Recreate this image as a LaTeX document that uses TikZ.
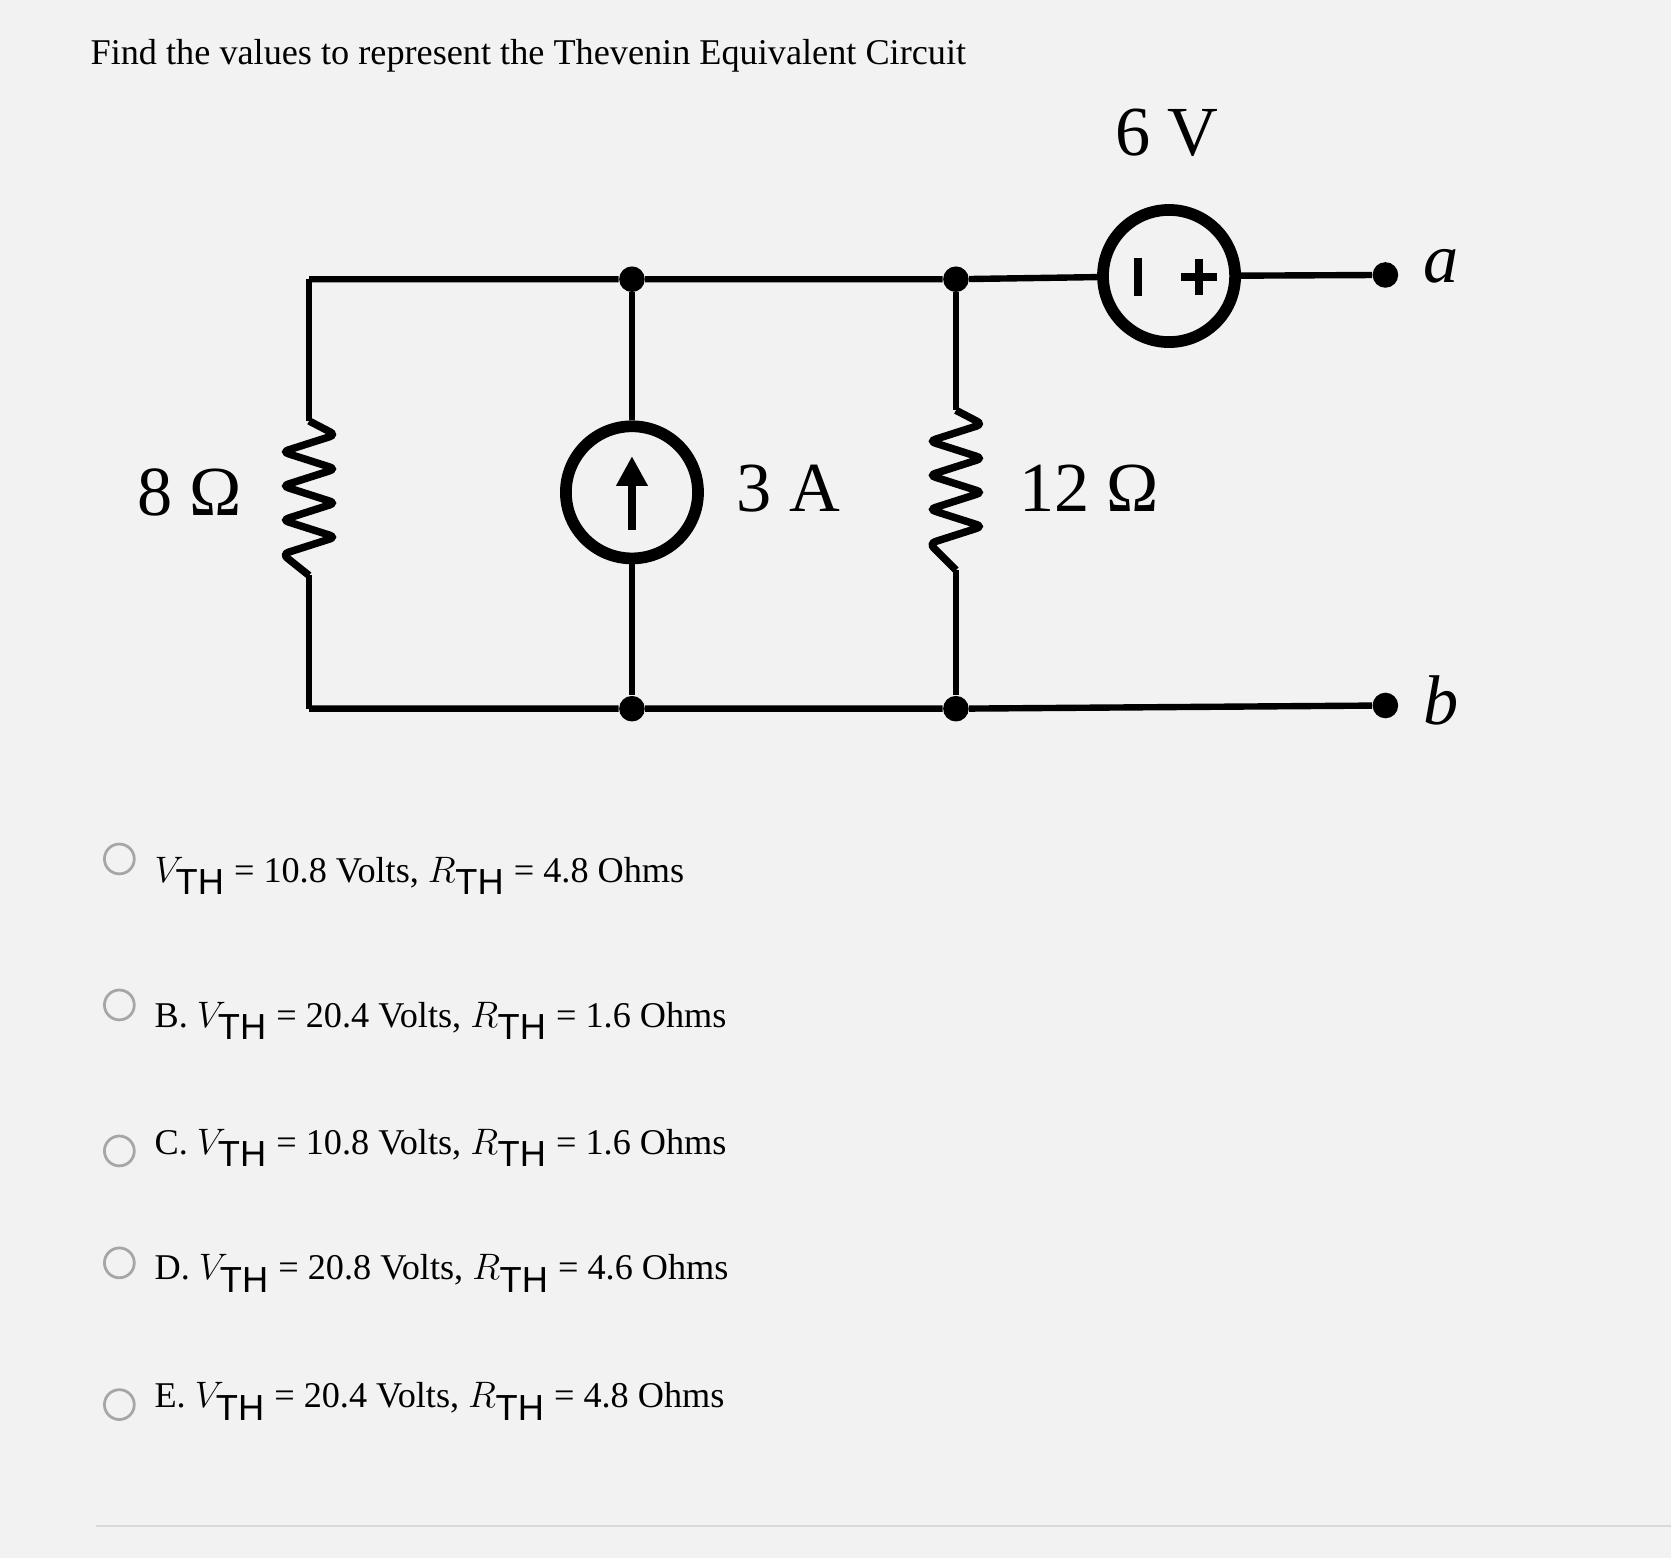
\documentclass[tikz,border=0pt]{standalone}
\usepackage{fontspec}
\setmainfont{Liberation Serif}
\setsansfont{Liberation Sans}
\usetikzlibrary{arrows.meta}
\tikzset{wire/.style={line width=3pt},
 res/.style={line width=3.5pt,rounded corners=3pt},
 src/.style={circle,draw,line width=5.5pt,minimum size=62pt,inner sep=0pt,fill=white!90!gray},
 dot/.style={circle,fill=black,inner sep=0pt,minimum size=12pt},
 lbl/.style={font=\fontsize{33}{36}\selectfont},
 opt/.style={font=\fontsize{17}{20}\selectfont,anchor=west},
 radio/.style={circle,draw=gray!70,line width=1.3pt,minimum size=14pt,inner sep=0pt}}
\newcommand{\VT}{$V_{\textsf{TH}}$}
\newcommand{\RT}{$R_{\textsf{TH}}$}
\begin{document}
\begin{tikzpicture}[x=0.5pt,y=-0.5pt]
\fill[gray!10] (0,0) rectangle (1568,1462);
\useasboundingbox (0,0) rectangle (1568,1462);
\draw[gray!30,line width=0.6pt] (90,1432) -- (1568,1432);
\node[anchor=west,font=\fontsize{17}{20}\selectfont] (title) at (78,52) {Find the values to represent the Thevenin Equivalent Circuit};
% nodes
\coordinate (tl) at (290,262); \coordinate (bl) at (290,665);
\node[dot] (t1) at (593,262) {}; \node[dot] (b1) at (593,665) {};
\node[dot] (t2) at (897,262) {}; \node[dot] (b2) at (897,665) {};
\node[dot] (a) at (1300,258) {}; \node[dot] (b) at (1300,662) {};
\node[src] (vs) at (1097,259) {};
\node[src] (cs) at (593,462) {};
% wires
\draw[wire] (tl) -- (t1) -- (t2) -- (vs);
\draw[wire] (bl) -- (290,540);
\draw[wire] (tl) -- (290,395);
\draw[res] (290,395) -- (315,408) -- (265,424) -- (315,440) -- (265,456) -- (315,472) -- (265,488) -- (315,504) -- (265,520) -- (290,540);
\draw[wire] (vs) -- (a);
\draw[wire] (bl) -- (b1) -- (b2) -- (b);
\draw[wire] (t1) -- (cs) -- (b1);
\draw[wire] (t2) -- (897,385);
\draw[res] (897,385) -- (922,398) -- (872,414) -- (922,430) -- (872,446) -- (922,462) -- (872,478) -- (922,494) -- (872,510) -- (897,535);
\draw[wire] (897,535) -- (b2);
% source symbols
\draw[line width=3.5pt,-{Triangle[length=14pt,width=14pt]}] (593,497) -- (593,428);
\draw[line width=3.5pt] (1068,242) -- (1068,278);
\draw[line width=3.5pt] (1108,260) -- (1142,260) (1125,243) -- (1125,277);
% labels
\node[lbl] (l6) at (1095,125) {6 V};
\node[lbl] (l8) at (178,462) {8 Ω};
\node[lbl] (l3) at (740,458) {3 A};
\node[lbl] (l12) at (1022,458) {12 Ω};
\node[lbl] (la) at (1352,250) {\textit{a}};
\node[lbl] (lb) at (1352,657) {\textit{b}};
% options
\node[radio] (r0) at (112,806) {}; \node[opt] (o0) at (138,822) {\VT\ = 10.8 Volts, \RT\ = 4.8 Ohms};
\node[radio] (r1) at (112,943) {}; \node[opt] (o1) at (138,958) {B.\ \VT\ = 20.4 Volts, \RT\ = 1.6 Ohms};
\node[radio] (r2) at (112,1080) {}; \node[opt] (o2) at (138,1077) {C.\ \VT\ = 10.8 Volts, \RT\ = 1.6 Ohms};
\node[radio] (r3) at (112,1185) {}; \node[opt] (o3) at (138,1195) {D.\ \VT\ = 20.8 Volts, \RT\ = 4.6 Ohms};
\node[radio] (r4) at (112,1318) {}; \node[opt] (o4) at (138,1315) {E.\ \VT\ = 20.4 Volts, \RT\ = 4.8 Ohms};
\end{tikzpicture}
\end{document}
